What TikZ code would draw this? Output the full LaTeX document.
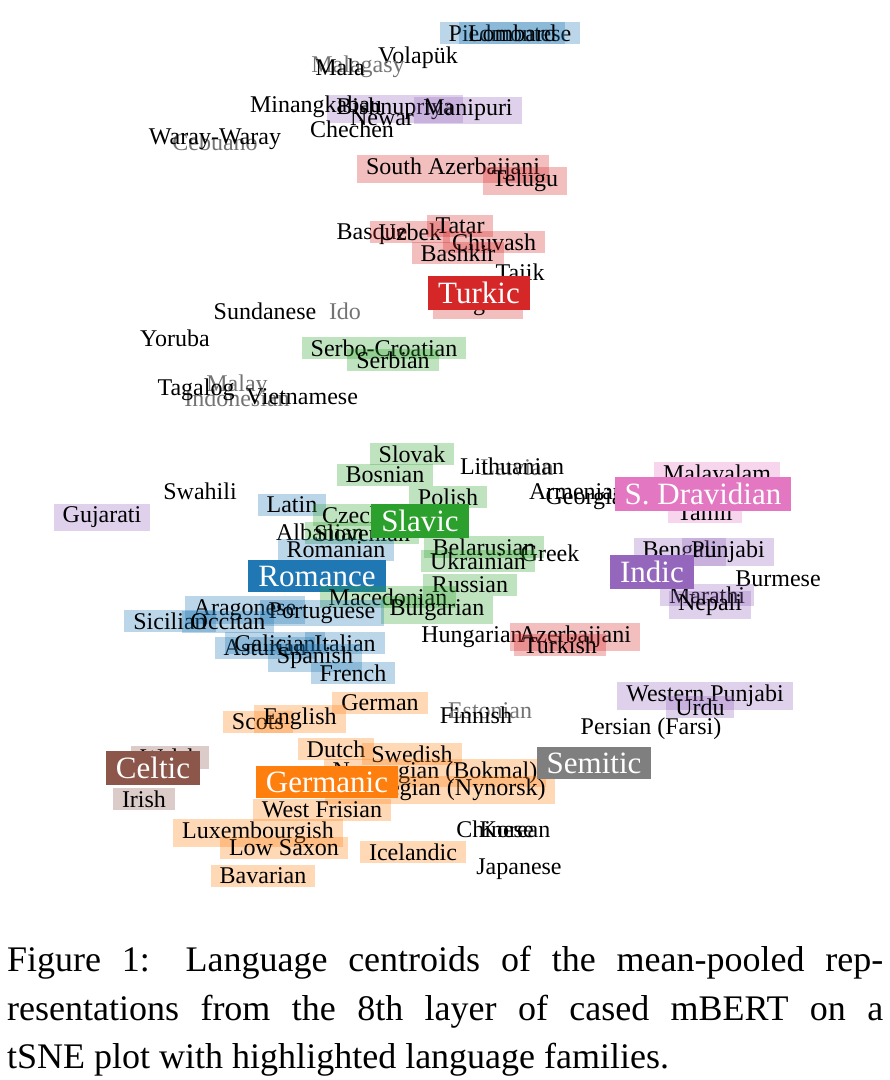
\documentclass[tikz,border=0pt]{standalone}
\usepackage{fontspec}
\setmainfont{Liberation Serif}
\definecolor{cB}{RGB}{31,119,180}
\definecolor{cG}{RGB}{44,160,44}
\definecolor{cR}{RGB}{214,39,40}
\definecolor{cP}{RGB}{148,103,189}
\definecolor{cK}{RGB}{227,119,194}
\definecolor{cN}{RGB}{140,86,75}
\definecolor{cO}{RGB}{255,127,14}
\definecolor{cY}{RGB}{127,127,127}
\begin{document}
\begin{tikzpicture}[x=1pt,y=-1pt,
  lab/.style={font=\fontsize{24}{26}\selectfont, inner xsep=9pt, inner ysep=3pt},
  bx/.style={lab, fill=#1, fill opacity=0.3, text opacity=1},
  gr/.style={lab, text=black!55},
  fam/.style={font=\fontsize{31}{33}\selectfont, fill=#1, text=white, inner xsep=10pt, inner ysep=6pt},
  capl/.style={anchor=west, inner sep=0pt, font=\fontsize{36}{38}\selectfont}]
\useasboundingbox (0,0) rectangle (890,1080);
% top
\node[bx=cB] (pie) at (510,33) {Piedmontese};
\node[bx=cB] (lom) at (512,33) {Lombard};
\node[lab] (vol) at (418,58) {Volapük};
\node[gr] (mlg) at (358,67) {Malagasy};
\node[lab] (hai) at (340,67) {Mala};
\node[bx=cP] (bis) at (395,109) {Bishnupriya};
\node[lab] (min) at (316,107) {Minangkabau};
\node[bx=cP] (man) at (468,110) {Manipuri};
\node[lab] (new) at (382,118) {Newar};
\node[lab] (che) at (352,129) {Chechen};
\node[gr] (ceb) at (215,142) {Cebuano};
\node[lab] (war) at (215,139) {Waray-Waray};
\node[bx=cR] (saz) at (453,169) {South Azerbaijani};
\node[bx=cR] (tel) at (525,181) {Telugu};
\node[lab] (bas) at (372,234) {Basque};
\node[bx=cR] (uzb) at (410,232) {Uzbek};
\node[bx=cR] (tat) at (460,226) {Tatar};
\node[bx=cR] (chu) at (494,242) {Chuvash};
\node[bx=cR] (bak) at (458,253) {Bashkir};
\node[lab] (taj) at (520,275) {Tajik};
\node[bx=cR] (kir) at (478,305) {Kirghiz};
\node[fam=cR] (tur) at (479,293) {Turkic};
\node[lab] (sun) at (265,311) {Sundanese};
\node[gr] (ido) at (345,311) {Ido};
\node[lab] (yor) at (175,338) {Yoruba};
\node[bx=cG] (sbc) at (384,348) {Serbo-Croatian};
\node[bx=cG] (srb) at (393,360) {Serbian};
\node[gr] (may) at (237,386) {Malay};
\node[gr] (ind) at (237,398) {Indonesian};
\node[lab] (tag) at (196,390) {Tagalog};
\node[lab] (vie) at (302,397) {Vietnamese};
% middle
\node[bx=cG] (slk) at (412,454) {Slovak};
\node[bx=cG] (bos) at (385,475) {Bosnian};
\node[gr] (lav) at (517,468) {Latvian};
\node[lab] (lit) at (512,466) {Lithuanian};
\node[lab] (swa) at (200,491) {Swahili};
\node[bx=cB] (lat) at (292,505) {Latin};
\node[bx=cP] (guj) at (102,517) {Gujarati};
\node[bx=cG] (pol) at (448,497) {Polish};
\node[bx=cG] (cze) at (352,515) {Czech};
\node[lab] (alb) at (320,532) {Albanian};
\node[bx=cG] (slv) at (362,533) {Slovenian};
\node[bx=cB] (rom) at (336,550) {Romanian};
\node[fam=cG] (sla) at (420,521) {Slavic};
\node[lab] (arm) at (577,492) {Armenian};
\node[lab] (geo) at (590,499) {Georgian};
\node[bx=cK] (mal) at (717,476) {Malayalam};
\node[bx=cK] (tam) at (705,512) {Tamil};
\node[fam=cK] (dra) at (703,494) {S. Dravidian};
\node[bx=cG] (bel) at (484,547) {Belarusian};
\node[lab] (gre) at (550,553) {Greek};
\node[bx=cG] (ukr) at (478,561) {Ukrainian};
\node[bx=cG] (rus) at (470,585) {Russian};
\node[fam=cB] (rmc) at (317,576) {Romance};
\node[bx=cP] (ben) at (680,552) {Bengali};
\node[bx=cP] (pun) at (728,552) {Punjabi};
\node[lab] (bur) at (778,579) {Burmese};
\node[bx=cP] (mar) at (707,595) {Marathi};
\node[bx=cP] (nep) at (710,605) {Nepali};
\node[fam=cP] (ind2) at (652,572) {Indic};
\node[bx=cG] (mac) at (388,597) {Macedonian};
\node[bx=cG] (bul) at (437,610) {Bulgarian};
\node[bx=cB] (ara) at (245,610) {Aragonese};
\node[bx=cB] (por) at (322,613) {Portuguese};
\node[bx=cB] (sic) at (170,621) {Sicilian};
\node[bx=cB] (occ) at (228,622) {Occitan};
\node[bx=cB] (ast) at (265,648) {Asturian};
\node[bx=cB] (gal) at (275,643) {Galician};
\node[bx=cB] (ita) at (345,643) {Italian};
\node[bx=cB] (spa) at (315,658) {Spanish};
\node[bx=cB] (fre) at (353,673) {French};
\node[lab] (hun) at (472,637) {Hungarian};
\node[bx=cR] (aze) at (575,637) {Azerbaijani};
\node[bx=cR] (trk) at (560,645) {Turkish};
% bottom
\node[bx=cO] (ger) at (380,703) {German};
\node[gr] (est) at (490,711) {Estonian};
\node[lab] (fin) at (476,715) {Finnish};
\node[bx=cP] (wpu) at (705,696) {Western Punjabi};
\node[bx=cP] (urd) at (700,707) {Urdu};
\node[lab] (per) at (651,729) {Persian (Farsi)};
\node[bx=cO] (sco) at (258,722) {Scots};
\node[bx=cO] (eng) at (300,719) {English};
\node[bx=cO] (dut) at (336,749) {Dutch};
\node[bx=cO] (swe) at (412,754) {Swedish};
\node[bx=cO] (nob) at (435,773) {Norwegian (Bokmal)};
\node[bx=cO] (nno) at (440,790) {Norwegian (Nynorsk)};
\node[bx=cN] (wel) at (170,757) {Welsh};
\node[bx=cN] (iri) at (144,799) {Irish};
\node[fam=cN] (cel) at (153,768) {Celtic};
\node[fam=cO] (grm) at (327,782) {Germanic};
\node[fam=cY] (sem) at (594,763) {Semitic};
\node[bx=cO] (wfr) at (322,810) {West Frisian};
\node[bx=cO] (lux) at (258,833) {Luxembourgish};
\node[lab] (chi) at (495,829) {Chinese};
\node[lab] (kor) at (515,830) {Korean};
\node[bx=cO] (lsa) at (284,848) {Low Saxon};
\node[bx=cO] (ice) at (413,852) {Icelandic};
\node[bx=cO] (bav) at (263,876) {Bavarian};
\node[lab] (jap) at (519,869) {Japanese};
% caption
\node[capl] (c1) at (7,963) {\makebox[876pt][s]{Figure 1: Language centroids of the mean-pooled rep-}};
\node[capl] (c2) at (7,1012) {\makebox[876pt][s]{resentations from the 8th layer of cased mBERT on a}};
\node[capl] (c3) at (7,1060) {tSNE plot with highlighted language families.};
\end{tikzpicture}
\end{document}
